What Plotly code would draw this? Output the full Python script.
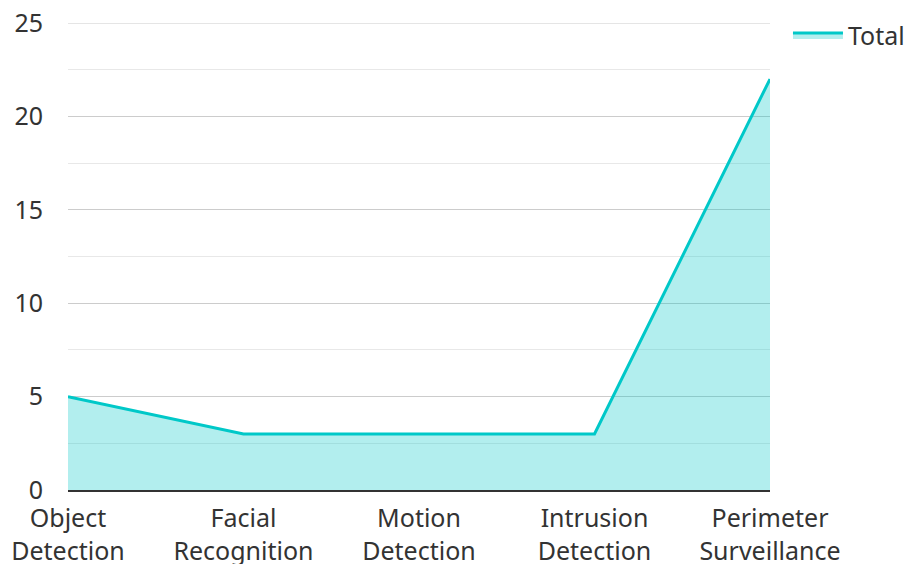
import plotly.graph_objects as go

categories = ["Object<br>Detection", "Facial<br>Recognition", "Motion<br>Detection",
              "Intrusion<br>Detection", "Perimeter<br>Surveillance"]
totals = [5, 3, 3, 3, 22]
y_ticks = [0, 5, 10, 15, 20, 25]

fig = go.Figure()
fig.add_trace(go.Scatter(
    x=categories, y=totals, name="Total", mode="lines",
    line=dict(color="#00c8c8", width=3),
    fill="tozeroy", fillcolor="rgba(0,200,200,0.3)",
))

# top gridline at the range edge (plotly omits gridlines lying on the plot border)
fig.add_shape(type="line", xref="paper", x0=0, x1=1, yref="y", y0=y_ticks[-1], y1=y_ticks[-1],
              line=dict(color="#cccccc", width=1), layer="below")

fig.update_layout(
    width=911, height=564,
    margin=dict(l=68, r=141, t=23, b=74, autoexpand=False),
    paper_bgcolor="white", plot_bgcolor="white",
    font=dict(family="Noto Sans", size=25, color="#333333"),
    showlegend=True,
    legend=dict(x=1.0256, y=1.023, xanchor="left", yanchor="top", itemwidth=50,
                font=dict(size=25, color="#333333"), bgcolor="rgba(0,0,0,0)"),
    xaxis=dict(
        range=[0, 4], showgrid=False, showline=True, linecolor="#333333", linewidth=2,
        ticks="", tickfont=dict(size=25, color="#333333"), zeroline=False,
        automargin=False, ticklabelstandoff=5, ticklabeloverflow="allow",
    ),
    yaxis=dict(
        range=[0, 25], tickvals=y_ticks, showgrid=True, gridcolor="#cccccc", gridwidth=1,
        minor=dict(dtick=2.5, showgrid=True, gridcolor="#e8e8e8", gridwidth=1),
        zeroline=False, showline=False, ticks="", ticklabelstandoff=24,
        tickfont=dict(size=25, color="#333333"), automargin=False,
        ticklabeloverflow="allow",
    ),
)

fig.write_html(
    "out.html",
    config={"displayModeBar": False},
    post_script="document.body.style.margin='0';document.body.style.overflow='hidden';",
)
